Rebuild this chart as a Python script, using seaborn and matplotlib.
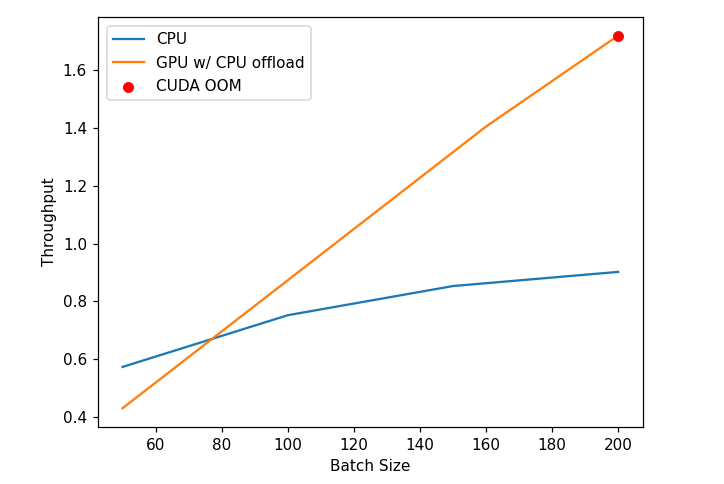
import matplotlib
matplotlib.use("Agg")
import matplotlib.pyplot as plt
import seaborn as sns
import pandas as pd

cpu_batch = [50, 100, 150, 200]
cpu_throughput = [0.573, 0.752, 0.853, 0.902]
gpu_batch = [50, 100, 160, 200]
gpu_throughput = [0.43, 0.873, 1.405, 1.72]
oom_batch = [200]
oom_throughput = [1.72]

DPI = 110
fig, ax = plt.subplots(figsize=(724 / DPI, 484 / DPI), dpi=DPI)
fig.subplots_adjust(left=0.135, right=0.888, top=0.965, bottom=0.118)

sns.lineplot(x=cpu_batch, y=cpu_throughput, ax=ax, color="tab:blue", label="CPU")
sns.lineplot(x=gpu_batch, y=gpu_throughput, ax=ax, color="tab:orange", label="GPU w/ CPU offload")
sns.scatterplot(x=oom_batch, y=oom_throughput, ax=ax, color="red", s=44, edgecolor="red",
                label="CUDA OOM", zorder=5)

ax.set_xlabel("Batch Size")
ax.set_ylabel("Throughput")
ax.legend(loc="upper left", borderaxespad=0.6, labelspacing=0.55)
fig.savefig("out.png", dpi=DPI)
